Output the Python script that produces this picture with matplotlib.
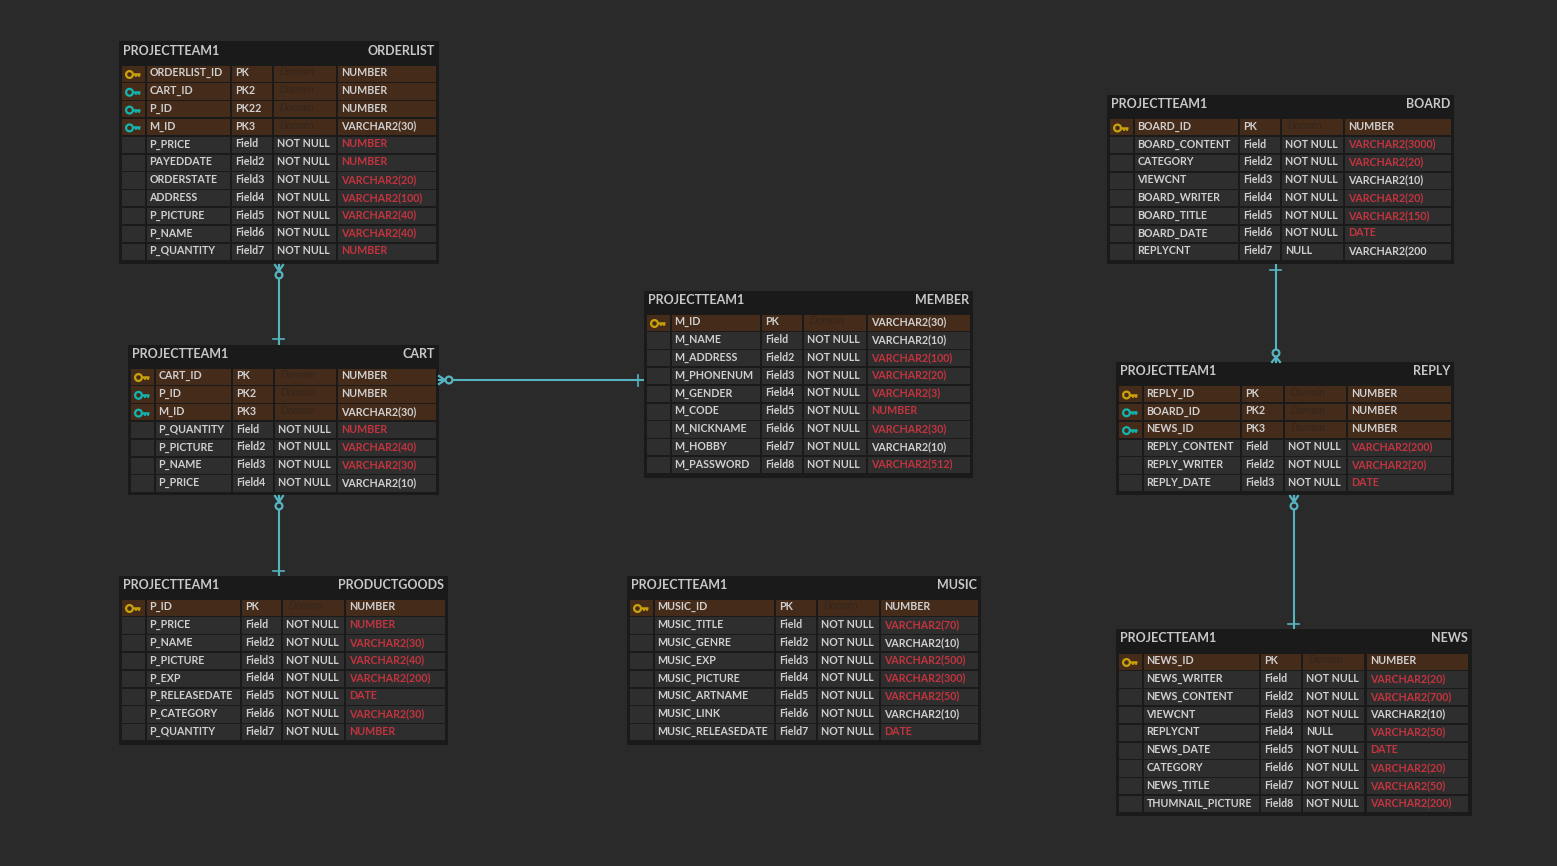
import matplotlib.pyplot as plt
from matplotlib.patches import Rectangle, Circle

plt.rcParams['font.family'] = ['Lato', 'DejaVu Sans']

# table contents
orderlist_names = ['ORDERLIST_ID', 'CART_ID', 'P_ID', 'M_ID', 'P_PRICE', 'PAYEDDATE', 'ORDERSTATE', 'ADDRESS', 'P_PICTURE', 'P_NAME', 'P_QUANTITY']
orderlist_keys = ['PK', 'PK2', 'PK22', 'PK3', 'Field', 'Field2', 'Field3', 'Field4', 'Field5', 'Field6', 'Field7']
orderlist_nulls = [None, None, None, None, 'NOT NULL', 'NOT NULL', 'NOT NULL', 'NOT NULL', 'NOT NULL', 'NOT NULL', 'NOT NULL']
orderlist_types = ['NUMBER', 'NUMBER', 'NUMBER', 'VARCHAR2(30)', 'NUMBER', 'NUMBER', 'VARCHAR2(20)', 'VARCHAR2(100)', 'VARCHAR2(40)', 'VARCHAR2(40)', 'NUMBER']
orderlist_red = [4, 5, 6, 7, 8, 9, 10]

cart_names = ['CART_ID', 'P_ID', 'M_ID', 'P_QUANTITY', 'P_PICTURE', 'P_NAME', 'P_PRICE']
cart_keys = ['PK', 'PK2', 'PK3', 'Field', 'Field2', 'Field3', 'Field4']
cart_nulls = [None, None, None, 'NOT NULL', 'NOT NULL', 'NOT NULL', 'NOT NULL']
cart_types = ['NUMBER', 'NUMBER', 'VARCHAR2(30)', 'NUMBER', 'VARCHAR2(40)', 'VARCHAR2(30)', 'VARCHAR2(10)']
cart_red = [3, 4, 5]

goods_names = ['P_ID', 'P_PRICE', 'P_NAME', 'P_PICTURE', 'P_EXP', 'P_RELEASEDATE', 'P_CATEGORY', 'P_QUANTITY']
goods_keys = ['PK', 'Field', 'Field2', 'Field3', 'Field4', 'Field5', 'Field6', 'Field7']
goods_nulls = [None, 'NOT NULL', 'NOT NULL', 'NOT NULL', 'NOT NULL', 'NOT NULL', 'NOT NULL', 'NOT NULL']
goods_types = ['NUMBER', 'NUMBER', 'VARCHAR2(30)', 'VARCHAR2(40)', 'VARCHAR2(200)', 'DATE', 'VARCHAR2(30)', 'NUMBER']
goods_red = [1, 2, 3, 4, 5, 6, 7]

music_names = ['MUSIC_ID', 'MUSIC_TITLE', 'MUSIC_GENRE', 'MUSIC_EXP', 'MUSIC_PICTURE', 'MUSIC_ARTNAME', 'MUSIC_LINK', 'MUSIC_RELEASEDATE']
music_keys = ['PK', 'Field', 'Field2', 'Field3', 'Field4', 'Field5', 'Field6', 'Field7']
music_nulls = [None, 'NOT NULL', 'NOT NULL', 'NOT NULL', 'NOT NULL', 'NOT NULL', 'NOT NULL', 'NOT NULL']
music_types = ['NUMBER', 'VARCHAR2(70)', 'VARCHAR2(10)', 'VARCHAR2(500)', 'VARCHAR2(300)', 'VARCHAR2(50)', 'VARCHAR2(10)', 'DATE']
music_red = [1, 3, 4, 5, 7]

member_names = ['M_ID', 'M_NAME', 'M_ADDRESS', 'M_PHONENUM', 'M_GENDER', 'M_CODE', 'M_NICKNAME', 'M_HOBBY', 'M_PASSWORD']
member_keys = ['PK', 'Field', 'Field2', 'Field3', 'Field4', 'Field5', 'Field6', 'Field7', 'Field8']
member_nulls = [None, 'NOT NULL', 'NOT NULL', 'NOT NULL', 'NOT NULL', 'NOT NULL', 'NOT NULL', 'NOT NULL', 'NOT NULL']
member_types = ['VARCHAR2(30)', 'VARCHAR2(10)', 'VARCHAR2(100)', 'VARCHAR2(20)', 'VARCHAR2(3)', 'NUMBER', 'VARCHAR2(30)', 'VARCHAR2(10)', 'VARCHAR2(512)']
member_red = [2, 3, 4, 5, 6, 8]

board_names = ['BOARD_ID', 'BOARD_CONTENT', 'CATEGORY', 'VIEWCNT', 'BOARD_WRITER', 'BOARD_TITLE', 'BOARD_DATE', 'REPLYCNT']
board_keys = ['PK', 'Field', 'Field2', 'Field3', 'Field4', 'Field5', 'Field6', 'Field7']
board_nulls = [None, 'NOT NULL', 'NOT NULL', 'NOT NULL', 'NOT NULL', 'NOT NULL', 'NOT NULL', 'NULL']
board_types = ['NUMBER', 'VARCHAR2(3000)', 'VARCHAR2(20)', 'VARCHAR2(10)', 'VARCHAR2(20)', 'VARCHAR2(150)', 'DATE', 'VARCHAR2(200']
board_red = [1, 2, 4, 5, 6]

reply_names = ['REPLY_ID', 'BOARD_ID', 'NEWS_ID', 'REPLY_CONTENT', 'REPLY_WRITER', 'REPLY_DATE']
reply_keys = ['PK', 'PK2', 'PK3', 'Field', 'Field2', 'Field3']
reply_nulls = [None, None, None, 'NOT NULL', 'NOT NULL', 'NOT NULL']
reply_types = ['NUMBER', 'NUMBER', 'NUMBER', 'VARCHAR2(200)', 'VARCHAR2(20)', 'DATE']
reply_red = [3, 4, 5]

news_names = ['NEWS_ID', 'NEWS_WRITER', 'NEWS_CONTENT', 'VIEWCNT', 'REPLYCNT', 'NEWS_DATE', 'CATEGORY', 'NEWS_TITLE', 'THUMNAIL_PICTURE']
news_keys = ['PK', 'Field', 'Field2', 'Field3', 'Field4', 'Field5', 'Field6', 'Field7', 'Field8']
news_nulls = [None, 'NOT NULL', 'NOT NULL', 'NOT NULL', 'NULL', 'NOT NULL', 'NOT NULL', 'NOT NULL', 'NOT NULL']
news_types = ['NUMBER', 'VARCHAR2(20)', 'VARCHAR2(700)', 'VARCHAR2(10)', 'VARCHAR2(50)', 'DATE', 'VARCHAR2(20)', 'VARCHAR2(50)', 'VARCHAR2(200)']
news_red = [1, 2, 4, 5, 6, 7, 8]

BG = '#2a2a2a'
DARK = '#1a1a1a'
CELL = '#2e2e2e'
PK_CELL = '#452b1a'
TEXT = '#d0d0d0'
HEAD_TEXT = '#c8c8c8'
RED = '#c4343f'
DOMAIN = '#35261a'
GOLD = '#c9a20c'
TEAL = '#12b5b0'
LINE = '#55b4c0'
ROW = 17.8
FS = 7.7

fig = plt.figure(figsize=(15.57, 8.66), dpi=100, facecolor=BG)
ax = fig.add_axes([0, 0, 1, 1])
ax.set_xlim(0, 1557)
ax.set_ylim(866, 0)
ax.axis('off')


def draw_key(x, y, color):
    ax.add_patch(Circle((x - 3.5, y), 3.4, fill=False, ec=color, lw=1.6))
    ax.plot([x, x + 7.5], [y - 0.5, y - 0.5], color=color, lw=1.8, solid_capstyle='butt')
    ax.plot([x + 3.5, x + 3.5], [y, y + 2.5], color=color, lw=1.2, solid_capstyle='butt')
    ax.plot([x + 6.5, x + 6.5], [y, y + 2.5], color=color, lw=1.2, solid_capstyle='butt')


def draw_table(name, box, edges, head_y, row_y, names, keys, nulls, types, red):
    x0, y0, x1, y1 = box
    ax.add_patch(Rectangle((x0, y0), x1 - x0, y1 - y0, fc=DARK, ec='none'))
    ax.text(x0 + 4, head_y + 5.2, 'PROJECTTEAM1', color=HEAD_TEXT, fontsize=9.0, va='baseline', ha='left', weight='bold')
    ax.text(x1 - 4, head_y + 5.2, name, color=HEAD_TEXT, fontsize=9.0, va='baseline', ha='right', weight='bold')
    for i in range(len(names)):
        yc = row_y + i * ROW
        is_pk = keys[i].startswith('PK')
        fc = PK_CELL if is_pk else CELL
        for left, right in edges:
            ax.add_patch(Rectangle((left, yc - 7.4), right - left, 16.2, fc=fc, ec='none'))
        if is_pk:
            draw_key(edges[0][0] + 11, yc + 1.5, GOLD if i == 0 else TEAL)
        base = yc + 3.2
        ax.text(edges[1][0] + 2.5, base, names[i], color=TEXT, fontsize=FS, va='baseline', weight='bold')
        ax.text(edges[2][0] + 3.5, base, keys[i], color=TEXT, fontsize=FS, va='baseline', weight='bold')
        if nulls[i] is None:
            ax.text(edges[3][0] + 5, base - 1, 'Domain', color=DOMAIN, fontsize=FS, va='baseline', style='italic')
        else:
            ax.text(edges[3][0] + 3.5, base, nulls[i], color=TEXT, fontsize=FS, va='baseline', weight='bold')
        ax.text(edges[4][0] + 3, base, types[i], color=RED if i in red else TEXT, fontsize=FS, va='baseline', weight='bold')


def draw_link(start, end, bar_at, circle_at, crow_at, crow_tip):
    # start/end run along one axis, the marker positions are on that same axis
    horizontal = start[1] == end[1]
    ax.plot([start[0], end[0]], [start[1], end[1]], color=LINE, lw=1.5, solid_capstyle='butt', zorder=3)
    if horizontal:
        y = start[1]
        ax.plot([bar_at, bar_at], [y - 5.5, y + 5.5], color=LINE, lw=1.2, zorder=3)
        ax.add_patch(Circle((circle_at, y), 3.4, fc=BG, ec=LINE, lw=1.6, zorder=4))
        for dy in (-4, 0, 4):
            ax.plot([crow_at, crow_tip], [y, y + dy], color=LINE, lw=1.6, zorder=3)
    else:
        x = start[0]
        ax.plot([x - 5.5, x + 5.5], [bar_at, bar_at], color=LINE, lw=1.2, zorder=3)
        ax.add_patch(Circle((x, circle_at), 3.4, fc=BG, ec=LINE, lw=1.6, zorder=4))
        for dx in (-4, 0, 4):
            ax.plot([x, x + dx], [crow_at, crow_tip], color=LINE, lw=1.6, zorder=3)


draw_table('ORDERLIST', (119, 41, 439, 264),
           [(122, 145), (147, 230), (232, 272), (274, 336), (338, 436)], 50, 73,
           orderlist_names, orderlist_keys, orderlist_nulls, orderlist_types, orderlist_red)
draw_table('CART', (128, 345, 439, 495),
           [(131, 154), (156, 231), (233, 273), (275, 336), (338, 436)], 353, 376,
           cart_names, cart_keys, cart_nulls, cart_types, cart_red)
draw_table('PRODUCTGOODS', (119, 576, 448, 745),
           [(122, 145), (147, 240), (242, 281), (283, 344), (346, 445)], 584, 607,
           goods_names, goods_keys, goods_nulls, goods_types, goods_red)
draw_table('MUSIC', (627, 576, 981, 745),
           [(630, 653), (655, 774), (776, 816), (818, 879), (881, 978)], 584, 607,
           music_names, music_keys, music_nulls, music_types, music_red)
draw_table('MEMBER', (644, 291, 973, 478),
           [(647, 670), (672, 760), (762, 802), (804, 866), (868, 970)], 299, 322,
           member_names, member_keys, member_nulls, member_types, member_red)
draw_table('BOARD', (1107, 95, 1454, 264),
           [(1110, 1133), (1135, 1238), (1240, 1280), (1282, 1343), (1345, 1451)], 103, 126.5,
           board_names, board_keys, board_nulls, board_types, board_red)
draw_table('REPLY', (1116, 362, 1454, 495),
           [(1119, 1142), (1144, 1240), (1242, 1283), (1285, 1346), (1348, 1451)], 370, 393.5,
           reply_names, reply_keys, reply_nulls, reply_types, reply_red)
draw_table('NEWS', (1116, 629, 1472, 816),
           [(1119, 1142), (1144, 1259), (1261, 1301), (1303, 1364), (1367, 1468)], 637, 661,
           news_names, news_keys, news_nulls, news_types, news_red)

draw_link((279, 264), (279, 345), 339, 275, 271, 265)
draw_link((439, 380), (644, 380), 638, 449, 445, 439)
draw_link((279, 495), (279, 576), 571, 506, 502, 496)
draw_link((1276, 264), (1276, 362), 270, 353, 357, 362)
draw_link((1294, 495), (1294, 629), 624, 506, 502, 496)

fig.savefig('out.png', dpi=100, facecolor=BG)
